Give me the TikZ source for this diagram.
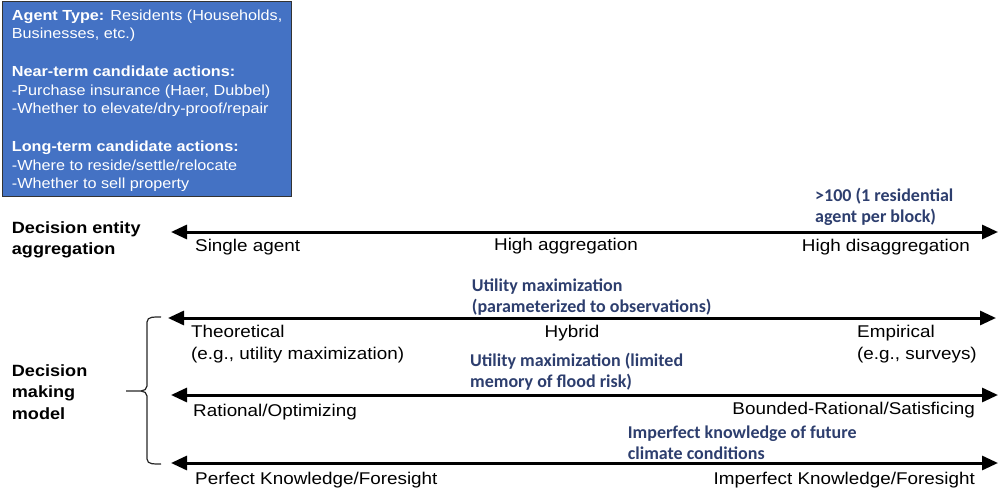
\documentclass[tikz,border=0pt]{standalone}
\usepackage{fontspec}
\setmainfont{Liberation Sans}[FakeStretch=1.11]
\newfontfamily\blufont{Carlito}
\usetikzlibrary{arrows.meta}
\definecolor{boxblue}{RGB}{68,114,196}
\definecolor{txtblue}{RGB}{45,62,110}
\begin{document}
\begin{tikzpicture}[x=1pt,y=-1pt,
 lab/.style={inner sep=0pt, font=\fontsize{17}{22}\selectfont, align=left, anchor=base west},
 dim/.style={line width=3pt, {Triangle[length=16pt,width=14pt]}-{Triangle[length=16pt,width=14pt]}},
 note/.style={inner sep=0pt, font=\blufont\bfseries\fontsize{18}{21}\selectfont, text=txtblue, align=left, anchor=base west},
 side/.style={inner sep=0pt, font=\bfseries\fontsize{16.3}{21.4}\selectfont, align=left, anchor=base west},
 boxtxt/.style={inner sep=0pt, font=\fontsize{14.6}{18.75}\selectfont, text=white, align=left, anchor=base west},
 brace/.style={line width=1.2pt, draw=black!85}]
\useasboundingbox (0,0) rectangle (1004,500);
% agent box (multi-line nodes are placed by the baseline of their last line)
\node[draw=black!80, fill=boxblue, line width=1pt, minimum width=289pt, minimum height=195pt, anchor=north west, inner sep=0pt] (agentbox) at (2,1) {};
\node[boxtxt] (agenttxt) at (11.7,189) {\textbf{Agent Type:} Residents (Households,\\Businesses, etc.)\\[18.75pt]\textbf{Near-term candidate actions:}\\-Purchase insurance (Haer, Dubbel)\\-Whether to elevate/dry-proof/repair\\[18.75pt]\textbf{Long-term candidate actions:}\\-Where to reside/settle/relocate\\-Whether to sell property};
% arrow endpoints
\coordinate (a1l) at (171,232); \coordinate (a1r) at (998,232);
\coordinate (a2l) at (168,318); \coordinate (a2r) at (996,318);
\coordinate (a3l) at (171,395); \coordinate (a3r) at (998,395);
\coordinate (a4l) at (171,463); \coordinate (a4r) at (998,463);
\draw[dim] (a1l) -- (a1r);
\draw[dim] (a2l) -- (a2r);
\draw[dim] (a3l) -- (a3r);
\draw[dim] (a4l) -- (a4r);
% row 1
\node[side] (dea) at (11.7,254.5) {Decision entity\\aggregation};
\node[lab] (single) at (195,251) {Single agent};
\node[lab, anchor=base] (highagg) at (566,250) {High aggregation};
\node[lab, anchor=base east] (highdis) at (970,251) {High disaggregation};
\node[note] (n1) at (815,222.7) {>100 (1 residential\\agent per block)};
% row 2
\node[note] (n2) at (471.7,312.7) {Utility maximization\\(parameterized to observations)};
\node[lab] (theo) at (191,359.5) {Theoretical\\(e.g., utility maximization)};
\node[lab, anchor=base] (hyb) at (572,337.5) {Hybrid};
\node[lab] (emp) at (857,359.5) {Empirical\\(e.g., surveys)};
% row 3
\node[note] (n3) at (470,387.7) {Utility maximization (limited\\memory of flood risk)};
\node[lab] (rat) at (193,416) {Rational/Optimizing};
\node[lab, anchor=base east] (bnd) at (975,414) {Bounded-Rational/Satisficing};
% row 4
\node[note] (n4) at (627.7,459.3) {Imperfect knowledge of future\\climate conditions};
\node[lab] (perf) at (195,484) {Perfect Knowledge/Foresight};
\node[lab, anchor=base east] (imp) at (975,484) {Imperfect Knowledge/Foresight};
% decision making model + brace
\node[side] (dmm) at (11.7,419) {Decision\\making\\model};
\draw[brace] (161,317) to[out=180,in=90] (147,322) -- (147,386) to[out=-90,in=0] (141,391) -- (126,391);
\draw[brace] (141,391) to[out=0,in=90] (147,396) -- (147,459) to[out=-90,in=180] (161,464);
\end{tikzpicture}
\end{document}
